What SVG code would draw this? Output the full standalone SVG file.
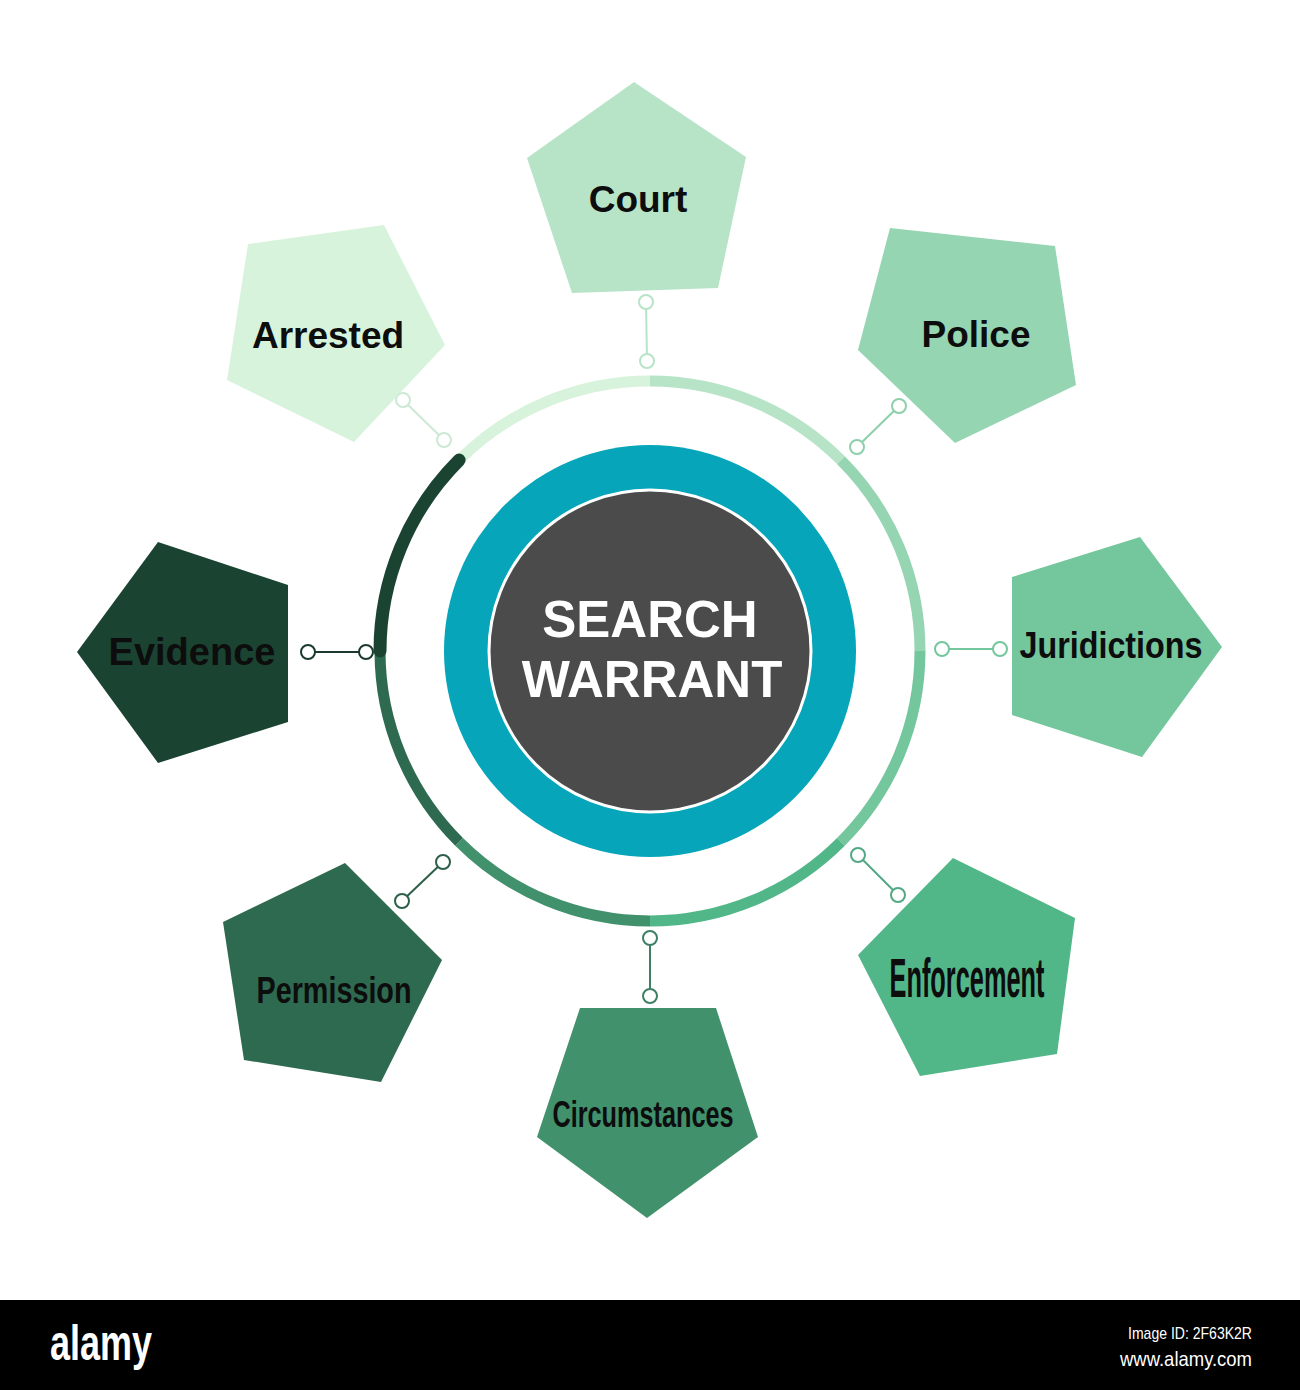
<svg xmlns="http://www.w3.org/2000/svg" width="1300" height="1390" viewBox="0 0 1300 1390">
<style>
.lbl{font-family:"Liberation Sans",Arial,sans-serif;font-weight:bold;fill:#0d0d0d;text-anchor:middle}
.ctr{font-family:"Liberation Sans",Arial,sans-serif;font-weight:bold;fill:#ffffff;text-anchor:middle;font-size:51px}
.seg{fill:none;stroke-width:11}
.dot{fill:#ffffff;stroke-width:2}
.ln{stroke-width:2}
</style>
<rect x="0" y="0" width="1300" height="1390" fill="#ffffff"/>

<g id="ring">
<path class="seg" stroke="#d8f3dc" d="M459.1 460.1 A270 270 0 0 1 650 381"/>
<path class="seg" stroke="#b7e4c7" d="M650 381 A270 270 0 0 1 840.9 460.1"/>
<path class="seg" stroke="#95d5b2" d="M840.9 460.1 A270 270 0 0 1 920 651"/>
<path class="seg" stroke="#74c69d" d="M920 651 A270 270 0 0 1 840.9 841.9"/>
<path class="seg" stroke="#52b788" d="M840.9 841.9 A270 270 0 0 1 650 921"/>
<path class="seg" stroke="#40916c" d="M650 921 A270 270 0 0 1 459.1 841.9"/>
<path class="seg" stroke="#2d6a4f" d="M459.1 841.9 A270 270 0 0 1 380 651"/>
<path fill="none" stroke="#1b4332" stroke-width="13" stroke-linecap="round" d="M380 651 A270 270 0 0 1 459.1 460.1"/>
</g>

<g id="connectors">
<line class="ln" stroke="#b7e4c7" x1="646" y1="302" x2="647" y2="361"/>
<circle class="dot" stroke="#b7e4c7" cx="646" cy="302" r="7"/>
<circle class="dot" stroke="#b7e4c7" cx="647" cy="361" r="7"/>
<line class="ln" stroke="#8ccfaa" x1="899" y1="406" x2="857" y2="447"/>
<circle class="dot" stroke="#8ccfaa" cx="899" cy="406" r="7"/>
<circle class="dot" stroke="#8ccfaa" cx="857" cy="447" r="7"/>
<line class="ln" stroke="#74c69d" x1="942" y1="649" x2="1000" y2="649"/>
<circle class="dot" stroke="#74c69d" cx="942" cy="649" r="7"/>
<circle class="dot" stroke="#74c69d" cx="1000" cy="649" r="7"/>
<line class="ln" stroke="#52a884" x1="858" y1="855" x2="898" y2="895"/>
<circle class="dot" stroke="#52a884" cx="858" cy="855" r="7"/>
<circle class="dot" stroke="#52a884" cx="898" cy="895" r="7"/>
<line class="ln" stroke="#3f7f64" x1="650" y1="938" x2="650" y2="996"/>
<circle class="dot" stroke="#3f7f64" cx="650" cy="938" r="7"/>
<circle class="dot" stroke="#3f7f64" cx="650" cy="996" r="7"/>
<line class="ln" stroke="#2d5e48" x1="443" y1="862" x2="402" y2="901"/>
<circle class="dot" stroke="#2d5e48" cx="443" cy="862" r="7"/>
<circle class="dot" stroke="#2d5e48" cx="402" cy="901" r="7"/>
<line class="ln" stroke="#1b3a2d" x1="308" y1="652" x2="366" y2="652"/>
<circle class="dot" stroke="#1b3a2d" cx="308" cy="652" r="7"/>
<circle class="dot" stroke="#1b3a2d" cx="366" cy="652" r="7"/>
<line class="ln" stroke="#cde8d5" x1="403" y1="400" x2="444" y2="440"/>
<circle class="dot" stroke="#cde8d5" cx="403" cy="400" r="7"/>
<circle class="dot" stroke="#cde8d5" cx="444" cy="440" r="7"/>
</g>

<g id="center">
<circle cx="650" cy="651" r="206" fill="#06a5b9"/>
<circle cx="650" cy="651" r="161" fill="#4b4b4b" stroke="#ffffff" stroke-width="3"/>
<text class="ctr" x="650" y="637">SEARCH</text>
<text class="ctr" x="652" y="697">WARRANT</text>
</g>

<g id="node-court">
<polygon fill="#b7e4c7" points="634,82 746,157 718,288 572,293 527,158"/>
<text class="lbl" x="638" y="212" font-size="37">Court</text>
</g>
<g id="node-police">
<polygon fill="#95d5b2" points="890,228 1055,246 1076,385 955,443 858,350"/>
<text class="lbl" x="976" y="347" font-size="37">Police</text>
</g>
<g id="node-juridictions">
<polygon fill="#74c69d" points="1140,537 1222,647 1142,757 1012,715 1012,577"/>
<text class="lbl" x="1111" y="658" font-size="37" textLength="183" lengthAdjust="spacingAndGlyphs">Juridictions</text>
</g>
<g id="node-enforcement">
<polygon fill="#52b788" points="953,858 1075,918 1057,1054 920,1076 858,955"/>
<text class="lbl" x="967" y="997" font-size="55" textLength="155" lengthAdjust="spacingAndGlyphs">Enforcement</text>
</g>
<g id="node-circumstances">
<polygon fill="#40916c" points="580,1008 716,1008 758,1137 647,1218 537,1137"/>
<text class="lbl" x="643" y="1127" font-size="37" textLength="181" lengthAdjust="spacingAndGlyphs">Circumstances</text>
</g>
<g id="node-permission">
<polygon fill="#2d6a4f" points="345,863 442,960 381,1082 244,1060 223,922"/>
<text class="lbl" x="334" y="1003" font-size="36" textLength="155" lengthAdjust="spacingAndGlyphs">Permission</text>
</g>
<g id="node-evidence">
<polygon fill="#1b4332" points="158,542 288,585 288,722 158,763 77,652"/>
<text class="lbl" x="192" y="665" font-size="38">Evidence</text>
</g>
<g id="node-arrested">
<polygon fill="#d8f3dc" points="248,244 384,225 445,345 354,442 227,380"/>
<text class="lbl" x="328" y="348" font-size="37">Arrested</text>
</g>

<g id="footer">
<rect x="0" y="1300" width="1300" height="90" fill="#000000"/>
<text x="50" y="1360" font-family="Liberation Sans, Arial, sans-serif" font-weight="bold" font-size="50" fill="#ffffff" textLength="102" lengthAdjust="spacingAndGlyphs">alamy</text>
<text x="1252" y="1339" font-family="Liberation Sans, Arial, sans-serif" font-size="17" fill="#ffffff" text-anchor="end" textLength="124" lengthAdjust="spacingAndGlyphs">Image ID: 2F63K2R</text>
<text x="1252" y="1366" font-family="Liberation Sans, Arial, sans-serif" font-size="21" fill="#ffffff" text-anchor="end" textLength="132" lengthAdjust="spacingAndGlyphs">www.alamy.com</text>
</g>
</svg>
